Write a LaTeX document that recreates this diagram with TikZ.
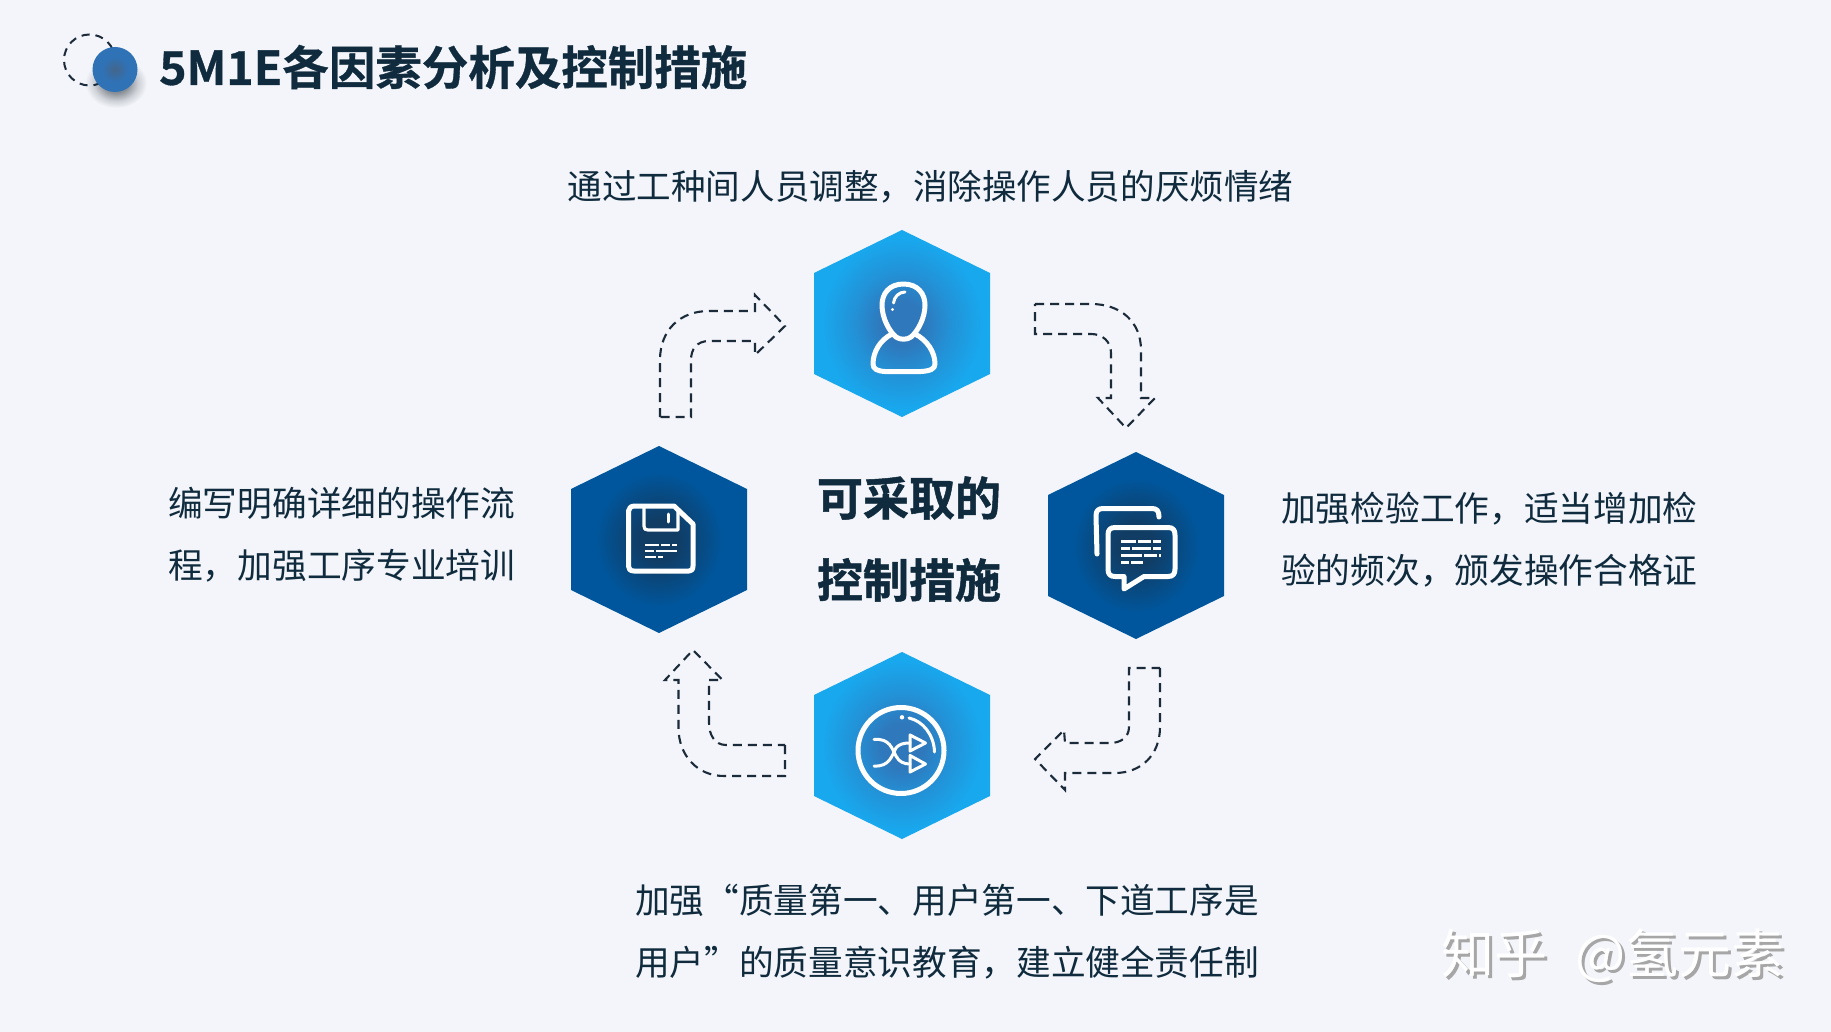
\documentclass[tikz,border=0pt]{standalone}
\usepackage{fontspec}
\setmainfont{Noto Sans CJK SC}
\newfontfamily\heavycjk[FakeBold=0.7]{Noto Sans CJK SC Bold}
\newfontfamily\heavierc[FakeBold=1.1]{Noto Sans CJK SC Bold}
\usetikzlibrary{calc}
\definecolor{bgc}{HTML}{F3F5FA}
\definecolor{inkc}{HTML}{0F2B3D}
\definecolor{dashc}{HTML}{1B2B3A}
\definecolor{lightA}{HTML}{2F78BC}
\definecolor{lightB}{HTML}{18A8EE}
\definecolor{darkA}{HTML}{113C63}
\definecolor{darkB}{HTML}{00569C}
\definecolor{shadowc}{HTML}{5F666E}
\definecolor{dotA}{HTML}{44658A}
\definecolor{dotB}{HTML}{2F72B6}
\pgfdeclareradialshading{hexlight}{\pgfpointorigin}{color(0bp)=(lightA); color(6bp)=(lightA); color(14bp)=(lightA!45!lightB); color(23bp)=(lightB); color(50bp)=(lightB)}
\pgfdeclareradialshading{hexdark}{\pgfpointorigin}{color(0bp)=(darkA); color(5bp)=(darkA); color(18bp)=(darkB); color(50bp)=(darkB)}
\pgfdeclareradialshading{softshadow}{\pgfpointorigin}{color(0bp)=(shadowc); color(10bp)=(shadowc!70!bgc); color(18bp)=(shadowc!25!bgc); color(25bp)=(bgc); color(50bp)=(bgc)}
\pgfdeclareradialshading{dotshade}{\pgfpointorigin}{color(0bp)=(dotA); color(4bp)=(dotA!70!dotB); color(14bp)=(dotB); color(50bp)=(dotB)}
\tikzset{
  x=1pt,y=-1pt,
  bodytext/.style={font=\fontsize{34.7}{62}\selectfont,text=inkc,inner sep=0pt,anchor=west,align=left},
  titletext/.style={font=\heavycjk\fontsize{46.5}{50}\selectfont,text=inkc,inner sep=0pt,anchor=west},
  centertext/.style={font=\heavierc\fontsize{46}{82}\selectfont,text=inkc,inner sep=0pt,anchor=center,align=center},
  flowarrow/.style={draw=dashc,line width=2.1pt,dash pattern=on 9pt off 6pt,line join=miter},
  iconline/.style={draw=white,line width=5pt,line cap=round,line join=round},
  iconthin/.style={draw=white,line width=3pt,line cap=round,line join=round},
  markfont/.style={font=\fontsize{53}{56}\selectfont,inner sep=0pt,anchor=west},
}
\def\HexShape{(0,-93.5) -- (88,-50.5) -- (88,50.5) -- (0,93.5) -- (-88,50.5) -- (-88,-50.5) -- cycle}
\begin{document}
\begin{tikzpicture}
\useasboundingbox (0,0) rectangle (1831,1032);
\fill[bgc] (0,0) rectangle (1831,1032);

% header bullet
\shade[shading=softshadow] (116,83) ellipse [x radius=31,y radius=25];
\draw[dashc,line width=2pt,dash pattern=on 8pt off 6pt] (89.5,60) circle [radius=25.5];
\shade[shading=dotshade] (115,69.5) circle [radius=22.5];
\node[titletext] (title) at (159,67) {5M1E各因素分析及控制措施};

% hexagons
\shade[shift={(902,323.5)},shading=hexlight] \HexShape;
\shade[shift={(659,539.5)},shading=hexdark] \HexShape;
\shade[shift={(1136,545.5)},shading=hexdark] \HexShape;
\shade[shift={(902,745.5)},shading=hexlight] \HexShape;

% person icon
\draw[iconline] (903.5,284) .. controls (889,284) and (882,294) .. (882,305)
  .. controls (882,318) and (889,331) .. (896,337)
  .. controls (900,340) and (907,340) .. (911,337)
  .. controls (918,331) and (925,318) .. (925,305)
  .. controls (925,294) and (918,284) .. (903.5,284) -- cycle;
\draw[iconline] (892,334) .. controls (880,340) and (873,352) .. (873,364)
  .. controls (873,369) and (877,371) .. (885,371.5)
  -- (921,371.5) .. controls (930,371) and (935,369) .. (935,364)
  .. controls (935,352) and (927,340) .. (915,334);
\draw[iconthin] (893.5,303) .. controls (894,297) and (899,292) .. (905,292);
\fill[white] (892.5,309.5) circle [radius=1.7];

% floppy icon
\draw[iconline] (635,506) -- (674,506) -- (693,524) -- (693,566) .. controls (693,570) and (691,571) .. (689,571)
  -- (634,571) .. controls (630,571) and (628.5,569) .. (628.5,566) -- (628.5,511) .. controls (628.5,508) and (631,506) .. (635,506) -- cycle;
\draw[draw=white,line width=3.2pt,line join=round] (644,507) -- (644,526) .. controls (644,529) and (645,530) .. (648,530) -- (678,530) -- (678,510);
\draw[iconthin] (668,514) -- (668,522);
\draw[white,line width=2.4pt,dash pattern=on 14pt off 2pt on 9pt off 2pt on 6pt off 1pt] (645,545) -- (677,545);
\draw[white,line width=2.4pt,dash pattern=on 9pt off 2pt on 21pt off 1pt] (645,551) -- (677,551);
\draw[white,line width=2.4pt,dash pattern=on 11pt off 2pt on 5pt off 20pt] (645,557) -- (663,557);

% chat icon
\draw[iconline] (1097,554) -- (1096,516) .. controls (1096,511) and (1098,508.5) .. (1103,508.5)
  -- (1152,508.5) .. controls (1157,508.5) and (1159,511) .. (1159,517);
\draw[iconline] (1115,527.5) -- (1168,527.5) .. controls (1173,527.5) and (1175,530) .. (1175,535)
  -- (1175,569) .. controls (1175,574) and (1173,576.5) .. (1168,576.5) -- (1144,576.5)
  -- (1124,589) -- (1124,576.5) -- (1115,576.5) .. controls (1110,576.5) and (1108,574) .. (1108,569)
  -- (1108,535) .. controls (1108,530) and (1110,527.5) .. (1115,527.5) -- cycle;
\draw[white,line width=2.4pt,dash pattern=on 15pt off 2pt on 13pt off 2pt on 9pt off 1pt] (1121,541.5) -- (1161,541.5);
\draw[white,line width=2.4pt,dash pattern=on 9pt off 2pt on 19pt off 2pt on 8pt off 1pt] (1121,548.5) -- (1161,548.5);
\draw[white,line width=2.4pt,dash pattern=on 21pt off 2pt on 13pt off 2pt on 2pt off 1pt] (1121,555.5) -- (1161,555.5);
\draw[white,line width=2.4pt,dash pattern=on 8pt off 2pt on 12pt off 20pt] (1121,562.5) -- (1144,562.5);

% shuffle icon
\draw[draw=white,line width=5pt] (901,750.5) circle [radius=43];
\fill[white] (902,717.3) circle [radius=2.2];
\draw[iconthin] (909,718) .. controls (923,721) and (934,735) .. (934.5,752);
\draw[iconthin] (874,739.5) .. controls (890,738) and (892,749) .. (896,756) .. controls (899,762) and (904,764) .. (910,764);
\draw[iconthin] (874,766) .. controls (890,767) and (892,755) .. (896,748) .. controls (899,744) and (904,743) .. (910,743);
\draw[iconthin] (910,735) -- (925.5,743) -- (910,751) -- cycle;
\draw[iconthin] (910,755.5) -- (925.5,764) -- (910,772) -- cycle;

% dashed turn arrows
\draw[flowarrow] (660,417) -- (660,360) .. controls (660,330) and (680,311) .. (709,311)
  -- (755,311) -- (755,295) -- (785,326) -- (755,355) -- (755,341) -- (709,341)
  .. controls (697,341) and (691,349) .. (691,360) -- (691,417) -- cycle;
\draw[flowarrow] (1035,304) -- (1091,304) .. controls (1121,304) and (1141,322) .. (1141,350)
  -- (1141,398) -- (1155,398) -- (1126,428) -- (1098,398) -- (1111,398) -- (1111,353)
  .. controls (1111,342) and (1103,334) .. (1091,334) -- (1035,334) -- cycle;
\draw[flowarrow] (1160,668) -- (1160,727) .. controls (1160,755) and (1141,773) .. (1115,773)
  -- (1065,773) -- (1065,790) -- (1035,759) -- (1064,730) -- (1065,743) -- (1110,743)
  .. controls (1121,743) and (1129,737) .. (1129,727) -- (1129,668) -- cycle;
\draw[flowarrow] (785,745) -- (785,776) -- (724,776) .. controls (697,776) and (678.5,755) .. (678.5,728)
  -- (678.5,680) -- (665,680) -- (693,650) -- (722.5,680) -- (709,680) -- (709,723)
  .. controls (709,735) and (715,745) .. (726,745) -- cycle;

% texts
\node[centertext] (centre) at (909,539) {可采取的\\控制措施};
\node[bodytext,font=\fontsize{34.55}{62}\selectfont] (toptext) at (567.5,187) {通过工种间人员调整，消除操作人员的厌烦情绪};
\node[bodytext] (lefttext) at (168,535) {编写明确详细的操作流\\程，加强工序专业培训};
\node[bodytext] (righttext) at (1281,540) {加强检验工作，适当增加检\\验的频次，颁发操作合格证};
\node[bodytext,font=\fontsize{34.65}{62}\selectfont] (bottomtext) at (635,932) {加强“质量第一、用户第一、下道工序是\\用户”的质量意识教育，建立健全责任制};

% watermark
\node[markfont,text=black!35] (markshadow) at (1444,959) {知乎\hspace{16pt} @氢元素};
\node[markfont,text=white] (mark) at (1441,956) {知乎\hspace{16pt} @氢元素};
\end{tikzpicture}
\end{document}
